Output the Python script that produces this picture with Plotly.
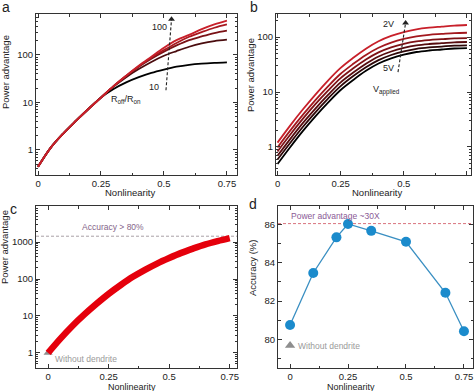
import numpy as np
import plotly.graph_objects as go

# ---------------- data ----------------
# panel a: power advantage vs nonlinearity for several Roff/Ron ratios
nl_a = [0, 0.05, 0.1, 0.15, 0.2, 0.25, 0.3, 0.35, 0.4, 0.45, 0.5, 0.55, 0.6, 0.65, 0.7, 0.75]
pa_r10 = [0.44, 1.1, 2.2, 4.05, 7.24, 12.6, 19.1, 26.3, 33.9, 41.7, 49.0, 56.2, 61.7, 65.3, 67.6, 69.2]
pa_r2 = [0.44, 1.1, 2.2, 4.05, 7.24, 12.6, 21.4, 33.9, 50.1, 70.8, 95.5, 120, 148, 174, 195, 209]
pa_r3 = [0.44, 1.1, 2.2, 4.05, 7.24, 12.6, 21.9, 35.5, 56.2, 83.2, 117, 158, 204, 245, 288, 324]
pa_r4 = [0.44, 1.1, 2.2, 4.05, 7.24, 12.6, 21.9, 36.3, 57.5, 87.1, 126, 178, 240, 302, 372, 437]
pa_r100 = [0.44, 1.1, 2.2, 4.05, 7.24, 12.6, 21.9, 36.3, 58.9, 91.2, 141, 204, 263, 347, 437, 525]

# panel b: power advantage for several applied voltages (2V top ... 5V bottom)
nl_b = [0, 0.05, 0.1, 0.15, 0.2, 0.25, 0.3, 0.35, 0.4, 0.45, 0.5, 0.55, 0.6, 0.65, 0.7, 0.75]
pb_v1 = [1.20, 2.45, 4.8, 9.0, 16.2, 27.5, 42.0, 61.5, 84.0, 105, 123, 138, 148, 155, 162, 166]
pb_v2 = [0.98, 1.98, 3.84, 7.15, 12.7, 21.5, 32.6, 47.4, 64.1, 79.4, 92.7, 103, 110, 114, 118, 120]
pb_v3 = [0.83, 1.67, 3.24, 6.0, 10.6, 17.9, 27.0, 39.0, 52.6, 64.9, 75.3, 83.4, 88.3, 91.4, 94.4, 95.5]
pb_v4 = [0.69, 1.39, 2.71, 5.0, 8.86, 15.0, 22.6, 32.7, 44.4, 54.7, 63.5, 70.6, 74.8, 77.4, 80.4, 81.3]
pb_v5 = [0.59, 1.18, 2.31, 4.28, 7.6, 12.8, 19.5, 28.2, 38.1, 47.2, 55.0, 61.1, 64.9, 67.3, 69.8, 70.8]
pb_v6 = [0.49, 0.99, 1.94, 3.61, 6.43, 10.9, 16.6, 24.3, 33.0, 40.9, 47.9, 53.5, 57.0, 59.4, 61.9, 63.1]

# panel c: power advantage at accuracy > 80%
nl_c = [0, 0.05, 0.1, 0.15, 0.2, 0.25, 0.3, 0.35, 0.4, 0.45, 0.5, 0.55, 0.6, 0.65, 0.7, 0.75]
pc = [1.0, 2.40, 5.37, 11.0, 21.4, 39.8, 69.2, 115, 178, 263, 372, 513, 676, 871, 1072, 1288]
pc_limit = 1450
pc_nodend = 1.0

# panel d: accuracy vs nonlinearity
nl_d = [0, 0.1, 0.2, 0.25, 0.35, 0.5, 0.67, 0.75]
acc_d = [80.75, 83.47, 85.33, 86.03, 85.67, 85.1, 82.43, 80.42]
acc_limit = 86.05
acc_nodend = 79.67

x_ticks = [0, 0.25, 0.5, 0.75]
x_ticktext = ["0", "0.25", "0.5", "0.75"]

# ---------------- figure ----------------
W, H = 474, 391
FONT = "Liberation Sans, Arial, sans-serif"
fig = go.Figure()

def px(x):
    return x / W

def py(y):
    return 1 - y / H

reds_a = ["#000000", "#4a0c0e", "#7a1216", "#a8181f", "#c8202a"]
for ys, c in zip([pa_r10, pa_r2, pa_r3, pa_r4, pa_r100], reds_a):
    fig.add_trace(go.Scatter(x=nl_a, y=ys, mode="lines", line=dict(color=c, width=1.8, shape="spline"),
                             xaxis="x", yaxis="y", showlegend=False, hoverinfo="skip"))

reds_b = ["#000000", "#2e0708", "#560c0f", "#7e1216", "#a3181e", "#c8202a"]
for ys, c in zip([pb_v6, pb_v5, pb_v4, pb_v3, pb_v2, pb_v1], reds_b):
    fig.add_trace(go.Scatter(x=nl_b, y=ys, mode="lines", line=dict(color=c, width=1.8, shape="spline"),
                             xaxis="x2", yaxis="y2", showlegend=False, hoverinfo="skip"))

# arrows (dashed) in a and b
def add_arrow(xs, ys, xa, ya):
    fig.add_trace(go.Scatter(x=xs, y=ys, mode="lines", line=dict(color="#222", width=1.1, dash="3px,2px"),
                             xaxis=xa, yaxis=ya, showlegend=False, hoverinfo="skip"))
    fig.add_trace(go.Scatter(x=xs[1:], y=ys[1:], mode="markers",
                             marker=dict(symbol="triangle-up", size=6, color="#222"),
                             xaxis=xa, yaxis=ya, showlegend=False, hoverinfo="skip"))

add_arrow([0.508, 0.53], [18, 560], "x", "y")
add_arrow([0.477, 0.507], [23, 180], "x2", "y2")

# panel c
fig.add_trace(go.Scatter(x=[-0.05, 0.78], y=[pc_limit, pc_limit], mode="lines",
                         line=dict(color="#a9a0a6", width=1, dash="3px,2px"),
                         xaxis="x3", yaxis="y3", showlegend=False, hoverinfo="skip"))
fig.add_trace(go.Scatter(x=[0], y=[pc_nodend], mode="markers",
                         marker=dict(symbol="triangle-up", size=8, color="#8e8e8e"),
                         xaxis="x3", yaxis="y3", showlegend=False, hoverinfo="skip"))
fig.add_trace(go.Scatter(x=nl_c, y=pc, mode="lines", line=dict(color="#e5000c", width=6.5, shape="spline"),
                         xaxis="x3", yaxis="y3", showlegend=False, hoverinfo="skip"))

# panel d
fig.add_trace(go.Scatter(x=[-0.052, 0.79], y=[acc_limit, acc_limit], mode="lines",
                         line=dict(color="#d9737d", width=1, dash="3px,2px"),
                         xaxis="x4", yaxis="y4", showlegend=False, hoverinfo="skip"))
fig.add_trace(go.Scatter(x=[0], y=[acc_nodend], mode="markers",
                         marker=dict(symbol="triangle-up", size=9, color="#8e8e8e"),
                         xaxis="x4", yaxis="y4", showlegend=False, hoverinfo="skip"))
fig.add_trace(go.Scatter(x=nl_d, y=acc_d, mode="lines+markers",
                         line=dict(color="#3a8fc2", width=1.3),
                         marker=dict(size=10, color="#1b8bcc"),
                         xaxis="x4", yaxis="y4", showlegend=False, hoverinfo="skip"))

tickfont = dict(family=FONT, size=9.5, color="#222")

def xax(domain, rng):
    return dict(domain=domain, range=rng, showline=True, linecolor="#333", linewidth=1, mirror="allticks",
                ticks="inside", ticklen=4, tickcolor="#333", showgrid=False, zeroline=False, automargin=False,
                tickvals=x_ticks, ticktext=x_ticktext, tickfont=tickfont,
                minor=dict(tick0=0, dtick=0.125, ticks="inside", ticklen=2.5, tickcolor="#333", showgrid=False))

def ylog(domain, rng, vals):
    return dict(domain=domain, type="log", range=rng, showline=True, linecolor="#333", linewidth=1,
                mirror="allticks", ticks="inside", ticklen=4, tickcolor="#333", showgrid=False, zeroline=False,
                automargin=False, tickvals=vals, ticktext=[str(v) for v in vals], tickfont=tickfont,
                minor=dict(dtick="D1", ticks="inside", ticklen=2, tickcolor="#333", showgrid=False))

xa = [px(36), px(237)]
xb = [px(276), px(471)]
xc = [px(36), px(237)]
xd = [px(278), px(473)]
ytop = [py(175), py(14)]
ybot = [py(368), py(206)]

fig.update_layout(
    width=W, height=H, autosize=False, margin=dict(l=0, r=0, t=0, b=0),
    paper_bgcolor="white", plot_bgcolor="white", showlegend=False,
    font=dict(family=FONT, color="#222"),
    xaxis=dict(**xax(xa, [-0.008, 0.79]), anchor="y"),
    yaxis=dict(**ylog(ytop, [-0.53, 2.86], [1, 10, 100]), anchor="x"),
    xaxis2=dict(**xax(xb, [-0.006, 0.766]), anchor="y2"),
    yaxis2=dict(**ylog(ytop, [-0.51, 2.42], [1, 10, 100]), anchor="x2"),
    xaxis3=dict(**xax(xc, [-0.05, 0.78]), anchor="y3"),
    yaxis3=dict(**ylog(ybot, [-0.41, 3.98], [1, 10, 100, 1000]), anchor="x3"),
    xaxis4=dict(**xax(xd, [-0.052, 0.789]), anchor="y4"),
    yaxis4=dict(domain=ybot, range=[78.5, 86.97], showline=True, linecolor="#333", linewidth=1,
                mirror="allticks", ticks="inside", ticklen=4, tickcolor="#333", showgrid=False, zeroline=False,
                automargin=False, tickvals=[80, 82, 84, 86], tickfont=tickfont, anchor="x4",
                minor=dict(tick0=80, dtick=1, ticks="inside", ticklen=2.5, tickcolor="#333", showgrid=False)),
)

ann = []
def paper_text(text, x, y, size=9.5, color="#222", angle=0, xanchor="center"):
    ann.append(dict(text=text, x=px(x), y=py(y), xref="paper", yref="paper", showarrow=False,
                    font=dict(family=FONT, size=size, color=color), textangle=angle,
                    xanchor=xanchor, yanchor="middle"))

# panel letters
paper_text("a", 6, 7, size=14)
paper_text("b", 254, 7, size=14)
paper_text("c", 13, 209, size=14)
paper_text("d", 253, 204, size=14)

# axis titles
paper_text("Power advantage", 5, 72, angle=-90)
paper_text("Power advantage", 251, 75, angle=-90)
paper_text("Power advantage", 4, 247, angle=-90)
paper_text("Accuracy (%)", 252, 268, angle=-90)
paper_text("Nonlinearity", 130, 193)
paper_text("Nonlinearity", 377, 192)
paper_text("Nonlinearity", 132, 386.5, size=9)
paper_text("Nonlinearity", 351, 386.5, size=9)

def data_text(text, x, y, xr, yr, log=True, size=9, color="#222", xanchor="center"):
    ann.append(dict(text=text, x=x, y=np.log10(y) if log else y, xref=xr, yref=yr, showarrow=False,
                    font=dict(family=FONT, size=size, color=color), xanchor=xanchor, yanchor="middle"))

data_text("100", 0.484, 395, "x", "y")
data_text("10", 0.46, 21, "x", "y")
data_text("R<sub>off</sub>/R<sub>on</sub>", 0.35, 11.7, "x", "y")
data_text("2V", 0.44, 170, "x2", "y2")
data_text("5V", 0.44, 27, "x2", "y2")
data_text("V<sub>applied</sub>", 0.43, 11, "x2", "y2")
data_text("Accuracy > 80%", 0.27, 2500, "x3", "y3", size=8.5, color="#85658a")
data_text("Without dendrite", 0.021, 0.69, "x3", "y3", size=8.5, color="#9a9a9a", xanchor="left")
data_text("Power advantage ~30X", -0.004, 86.45, "x4", "y4", log=False, size=8.5, color="#8a5a96", xanchor="left")
data_text("Without dendrite", 0.025, 79.67, "x4", "y4", log=False, size=8.5, color="#9a9a9a", xanchor="left")

fig.update_layout(annotations=ann)
fig.write_html("out.html", config={"displayModeBar": False},
               post_script="document.body.style.margin='0';document.body.style.padding='0';document.body.style.overflow='hidden';")
